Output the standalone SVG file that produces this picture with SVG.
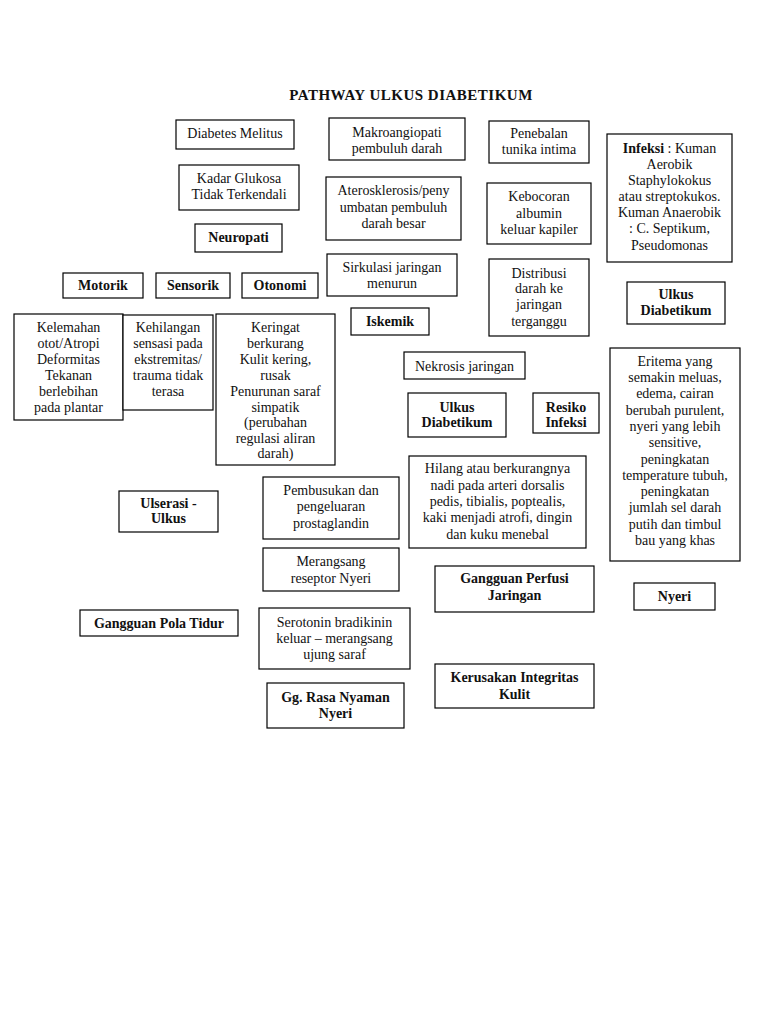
<svg xmlns="http://www.w3.org/2000/svg" width="768" height="1024" viewBox="0 0 768 1024">
<style>
.bx{fill:#fff;stroke:#000;stroke-width:1.2}
text{font-family:"Liberation Serif","Times New Roman",serif;font-size:14px;text-anchor:middle;fill:#111}
.b{font-weight:bold}
.title{font-weight:bold;font-size:15px;letter-spacing:0.5px}
</style>
<rect width="768" height="1024" fill="#fff"/>
<text class="title" x="411" y="100">PATHWAY ULKUS DIABETIKUM</text>
<g id="connectors"></g>
<g id="n-dm"><rect class="bx" x="176" y="120" width="118" height="29"/><text x="235" y="138">Diabetes Melitus</text></g>
<g id="n-kadar"><rect class="bx" x="179" y="165" width="120" height="45"/><text x="239" y="182.5">Kadar Glukosa</text><text x="239" y="199">Tidak Terkendali</text></g>
<g id="n-neuropati"><rect class="bx" x="195" y="224" width="87" height="28"/><text class="b" x="238.5" y="241.5">Neuropati</text></g>
<g id="n-motorik"><rect class="bx" x="63" y="273" width="80" height="25"/><text class="b" x="103" y="290">Motorik</text></g>
<g id="n-sensorik"><rect class="bx" x="156" y="273" width="74" height="25"/><text class="b" x="193" y="290">Sensorik</text></g>
<g id="n-otonomi"><rect class="bx" x="242" y="273" width="76" height="25"/><text class="b" x="280" y="290">Otonomi</text></g>
<g id="n-makro"><rect class="bx" x="329" y="118" width="136" height="42"/><text x="397" y="136.5">Makroangiopati</text><text x="397" y="153">pembuluh darah</text></g>
<g id="n-atero"><rect class="bx" x="326" y="177" width="135" height="63"/><text x="393.5" y="195">Aterosklerosis/peny</text><text x="393.5" y="212">umbatan pembuluh</text><text x="393.5" y="228">darah besar</text></g>
<g id="n-sirkulasi"><rect class="bx" x="327" y="254" width="130" height="42"/><text x="392" y="272">Sirkulasi jaringan</text><text x="392" y="288">menurun</text></g>
<g id="n-iskemik"><rect class="bx" x="351" y="308" width="78" height="27"/><text class="b" x="390" y="326">Iskemik</text></g>
<g id="n-penebalan"><rect class="bx" x="489" y="121" width="100" height="42"/><text x="539" y="138">Penebalan</text><text x="539" y="154">tunika intima</text></g>
<g id="n-kebocoran"><rect class="bx" x="487" y="183" width="104" height="61"/><text x="539" y="201">Kebocoran</text><text x="539" y="218">albumin</text><text x="539" y="234">keluar kapiler</text></g>
<g id="n-distribusi"><rect class="bx" x="489" y="259" width="100" height="77"/><text x="539" y="277.5">Distribusi</text><text x="539" y="293">darah ke</text><text x="539" y="309">jaringan</text><text x="539" y="325.5">terganggu</text></g>
<g id="n-infeksi"><rect class="bx" x="607" y="134" width="125" height="128"/><text x="669.5" y="152.5"><tspan class="b">Infeksi</tspan> : Kuman</text><text x="669.5" y="169">Aerobik</text><text x="669.5" y="185">Staphylokokus</text><text x="669.5" y="201">atau streptokukos.</text><text x="669.5" y="217">Kuman Anaerobik</text><text x="669.5" y="233">: C. Septikum,</text><text x="669.5" y="249.5">Pseudomonas</text></g>
<g id="n-ulkus2"><rect class="bx" x="627" y="282" width="98" height="42"/><text class="b" x="676" y="299">Ulkus</text><text class="b" x="676" y="315">Diabetikum</text></g>
<g id="n-kelemahan"><rect class="bx" x="14" y="314" width="109" height="106"/><text x="68.5" y="332">Kelemahan</text><text x="68.5" y="348">otot/Atropi</text><text x="68.5" y="364">Deformitas</text><text x="68.5" y="380">Tekanan</text><text x="68.5" y="396">berlebihan</text><text x="68.5" y="411.5">pada plantar</text></g>
<g id="n-kehilangan"><rect class="bx" x="123" y="315" width="90" height="95"/><text x="168" y="332">Kehilangan</text><text x="168" y="348">sensasi pada</text><text x="168" y="364">ekstremitas/</text><text x="168" y="380">trauma tidak</text><text x="168" y="396">terasa</text></g>
<g id="n-keringat"><rect class="bx" x="216" y="314" width="119" height="151"/><text x="275.5" y="332">Keringat</text><text x="275.5" y="348">berkurang</text><text x="275.5" y="364">Kulit kering,</text><text x="275.5" y="380">rusak</text><text x="275.5" y="396">Penurunan saraf</text><text x="275.5" y="411.5">simpatik</text><text x="275.5" y="427">(perubahan</text><text x="275.5" y="442.5">regulasi aliran</text><text x="275.5" y="458">darah)</text></g>
<g id="n-ulserasi"><rect class="bx" x="119" y="491" width="99" height="41"/><text class="b" x="168.5" y="507.5">Ulserasi -</text><text class="b" x="168.5" y="523">Ulkus</text></g>
<g id="n-pembusukan"><rect class="bx" x="263" y="477" width="136" height="62"/><text x="331" y="495">Pembusukan dan</text><text x="331" y="511">pengeluaran</text><text x="331" y="527.5">prostaglandin</text></g>
<g id="n-merangsang"><rect class="bx" x="263" y="548" width="136" height="43"/><text x="331" y="565.5">Merangsang</text><text x="331" y="582.5">reseptor Nyeri</text></g>
<g id="n-polatidur"><rect class="bx" x="80" y="610" width="158" height="26"/><text class="b" x="159" y="628">Gangguan Pola Tidur</text></g>
<g id="n-serotonin"><rect class="bx" x="259" y="608" width="151" height="61"/><text x="334.5" y="626.5">Serotonin bradikinin</text><text x="334.5" y="642.5">keluar – merangsang</text><text x="334.5" y="659">ujung saraf</text></g>
<g id="n-rasanyaman"><rect class="bx" x="267" y="683" width="137" height="45"/><text class="b" x="335.5" y="701.5">Gg. Rasa Nyaman</text><text class="b" x="335.5" y="718">Nyeri</text></g>
<g id="n-nekrosis"><rect class="bx" x="404" y="352" width="121" height="27"/><text x="464.5" y="370.5">Nekrosis jaringan</text></g>
<g id="n-ulkus1"><rect class="bx" x="408" y="393" width="98" height="44"/><text class="b" x="457" y="411.5">Ulkus</text><text class="b" x="457" y="426.5">Diabetikum</text></g>
<g id="n-resiko"><rect class="bx" x="533" y="393" width="66" height="40"/><text class="b" x="566" y="411.5">Resiko</text><text class="b" x="566" y="426.5">Infeksi</text></g>
<g id="n-hilang"><rect class="bx" x="409" y="456" width="177" height="92"/><text x="497.5" y="473">Hilang atau berkurangnya</text><text x="497.5" y="489.5">nadi pada arteri dorsalis</text><text x="497.5" y="506">pedis, tibialis, poptealis,</text><text x="497.5" y="522">kaki menjadi atrofi, dingin</text><text x="497.5" y="538.5">dan kuku menebal</text></g>
<g id="n-eritema"><rect class="bx" x="610" y="348" width="130" height="213"/><text x="675" y="365.5">Eritema yang</text><text x="675" y="382">semakin meluas,</text><text x="675" y="398">edema, cairan</text><text x="675" y="414.5">berubah purulent,</text><text x="675" y="431">nyeri yang lebih</text><text x="675" y="447">sensitive,</text><text x="675" y="463.5">peningkatan</text><text x="675" y="479.5">temperature tubuh,</text><text x="675" y="496">peningkatan</text><text x="675" y="512">jumlah sel darah</text><text x="675" y="528.5">putih dan timbul</text><text x="675" y="545">bau yang khas</text></g>
<g id="n-perfusi"><rect class="bx" x="435" y="566" width="159" height="46"/><text class="b" x="514.5" y="583">Gangguan Perfusi</text><text class="b" x="514.5" y="600">Jaringan</text></g>
<g id="n-nyeri"><rect class="bx" x="634" y="583" width="81" height="27"/><text class="b" x="674.5" y="600.5">Nyeri</text></g>
<g id="n-kerusakan"><rect class="bx" x="435" y="664" width="159" height="44"/><text class="b" x="514.5" y="681.5">Kerusakan Integritas</text><text class="b" x="514.5" y="698.5">Kulit</text></g>
</svg>
